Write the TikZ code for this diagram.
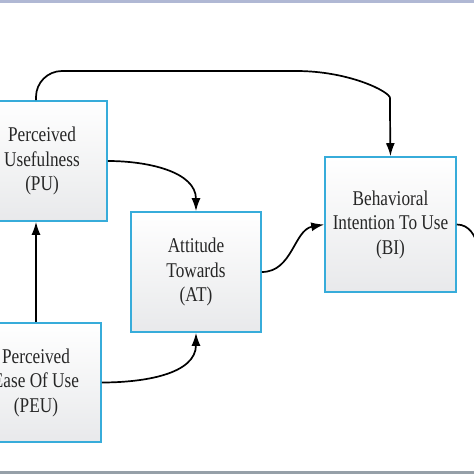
\documentclass[tikz,border=0pt]{standalone}
\usepackage{fontspec}
\setmainfont{Liberation Serif}[FakeStretch=0.82]
\usepackage{tikz}
\usetikzlibrary{arrows.meta,positioning,calc}
\definecolor{boxcyan}{RGB}{55,172,218}
\definecolor{boxgrey}{RGB}{232,233,235}
\definecolor{bandblue}{RGB}{176,184,212}
\definecolor{bandgrey}{RGB}{150,160,168}

\begin{document}
\begin{tikzpicture}[
    x=1pt, y=1pt,
    tambox/.style={rectangle, draw=boxcyan, line width=1.6pt,
        top color=white, bottom color=boxgrey,
        minimum width=130pt, minimum height=120pt, align=center,
        font=\fontsize{21}{24.5}\selectfont, text=black!85, inner sep=2pt},
    link/.style={line width=1.7pt},
    >={Latex[length=13pt,width=9pt]}
]
\clip (0,0) rectangle (474,474);
% frame bands
\fill[bandblue] (0,471) rectangle (474,474);
\fill[bandgrey] (0,0) rectangle (474,2.5);

\node[tambox] (pu) at (42,313) {Perceived\\Usefulness\\(PU)};
\node[tambox] (at) at (196,202) {Attitude\\Towards\\(AT)};
\node[tambox, minimum width=131pt, minimum height=135pt] (bi) at (390.5,249.5) {Behavioral\\Intention To Use\\(BI)};
\node[tambox, minimum height=119pt] (peu) at (36,91.5) {Perceived\\Ease Of Use\\(PEU)};
\coordinate (exit) at (478,226);

\draw[link, ->, rounded corners=26pt] (peu.north |- pu.north) -- (36,403) -- (270,403)
    .. controls (350,403) and (390,382) .. (390,350) -- (bi.north);
\draw[link, ->] (pu.east) to[out=0, in=90] (at.north);
\draw[link, ->] (at.east) to[out=0, in=190] (bi.west);
\draw[link, ->] (peu.north) -- (peu.north |- pu.south);
\draw[link, ->] (peu.east) to[out=0, in=-90] (at.south);
\draw[link] (bi.east) to[out=0, in=100] (exit);
\end{tikzpicture}
\end{document}
